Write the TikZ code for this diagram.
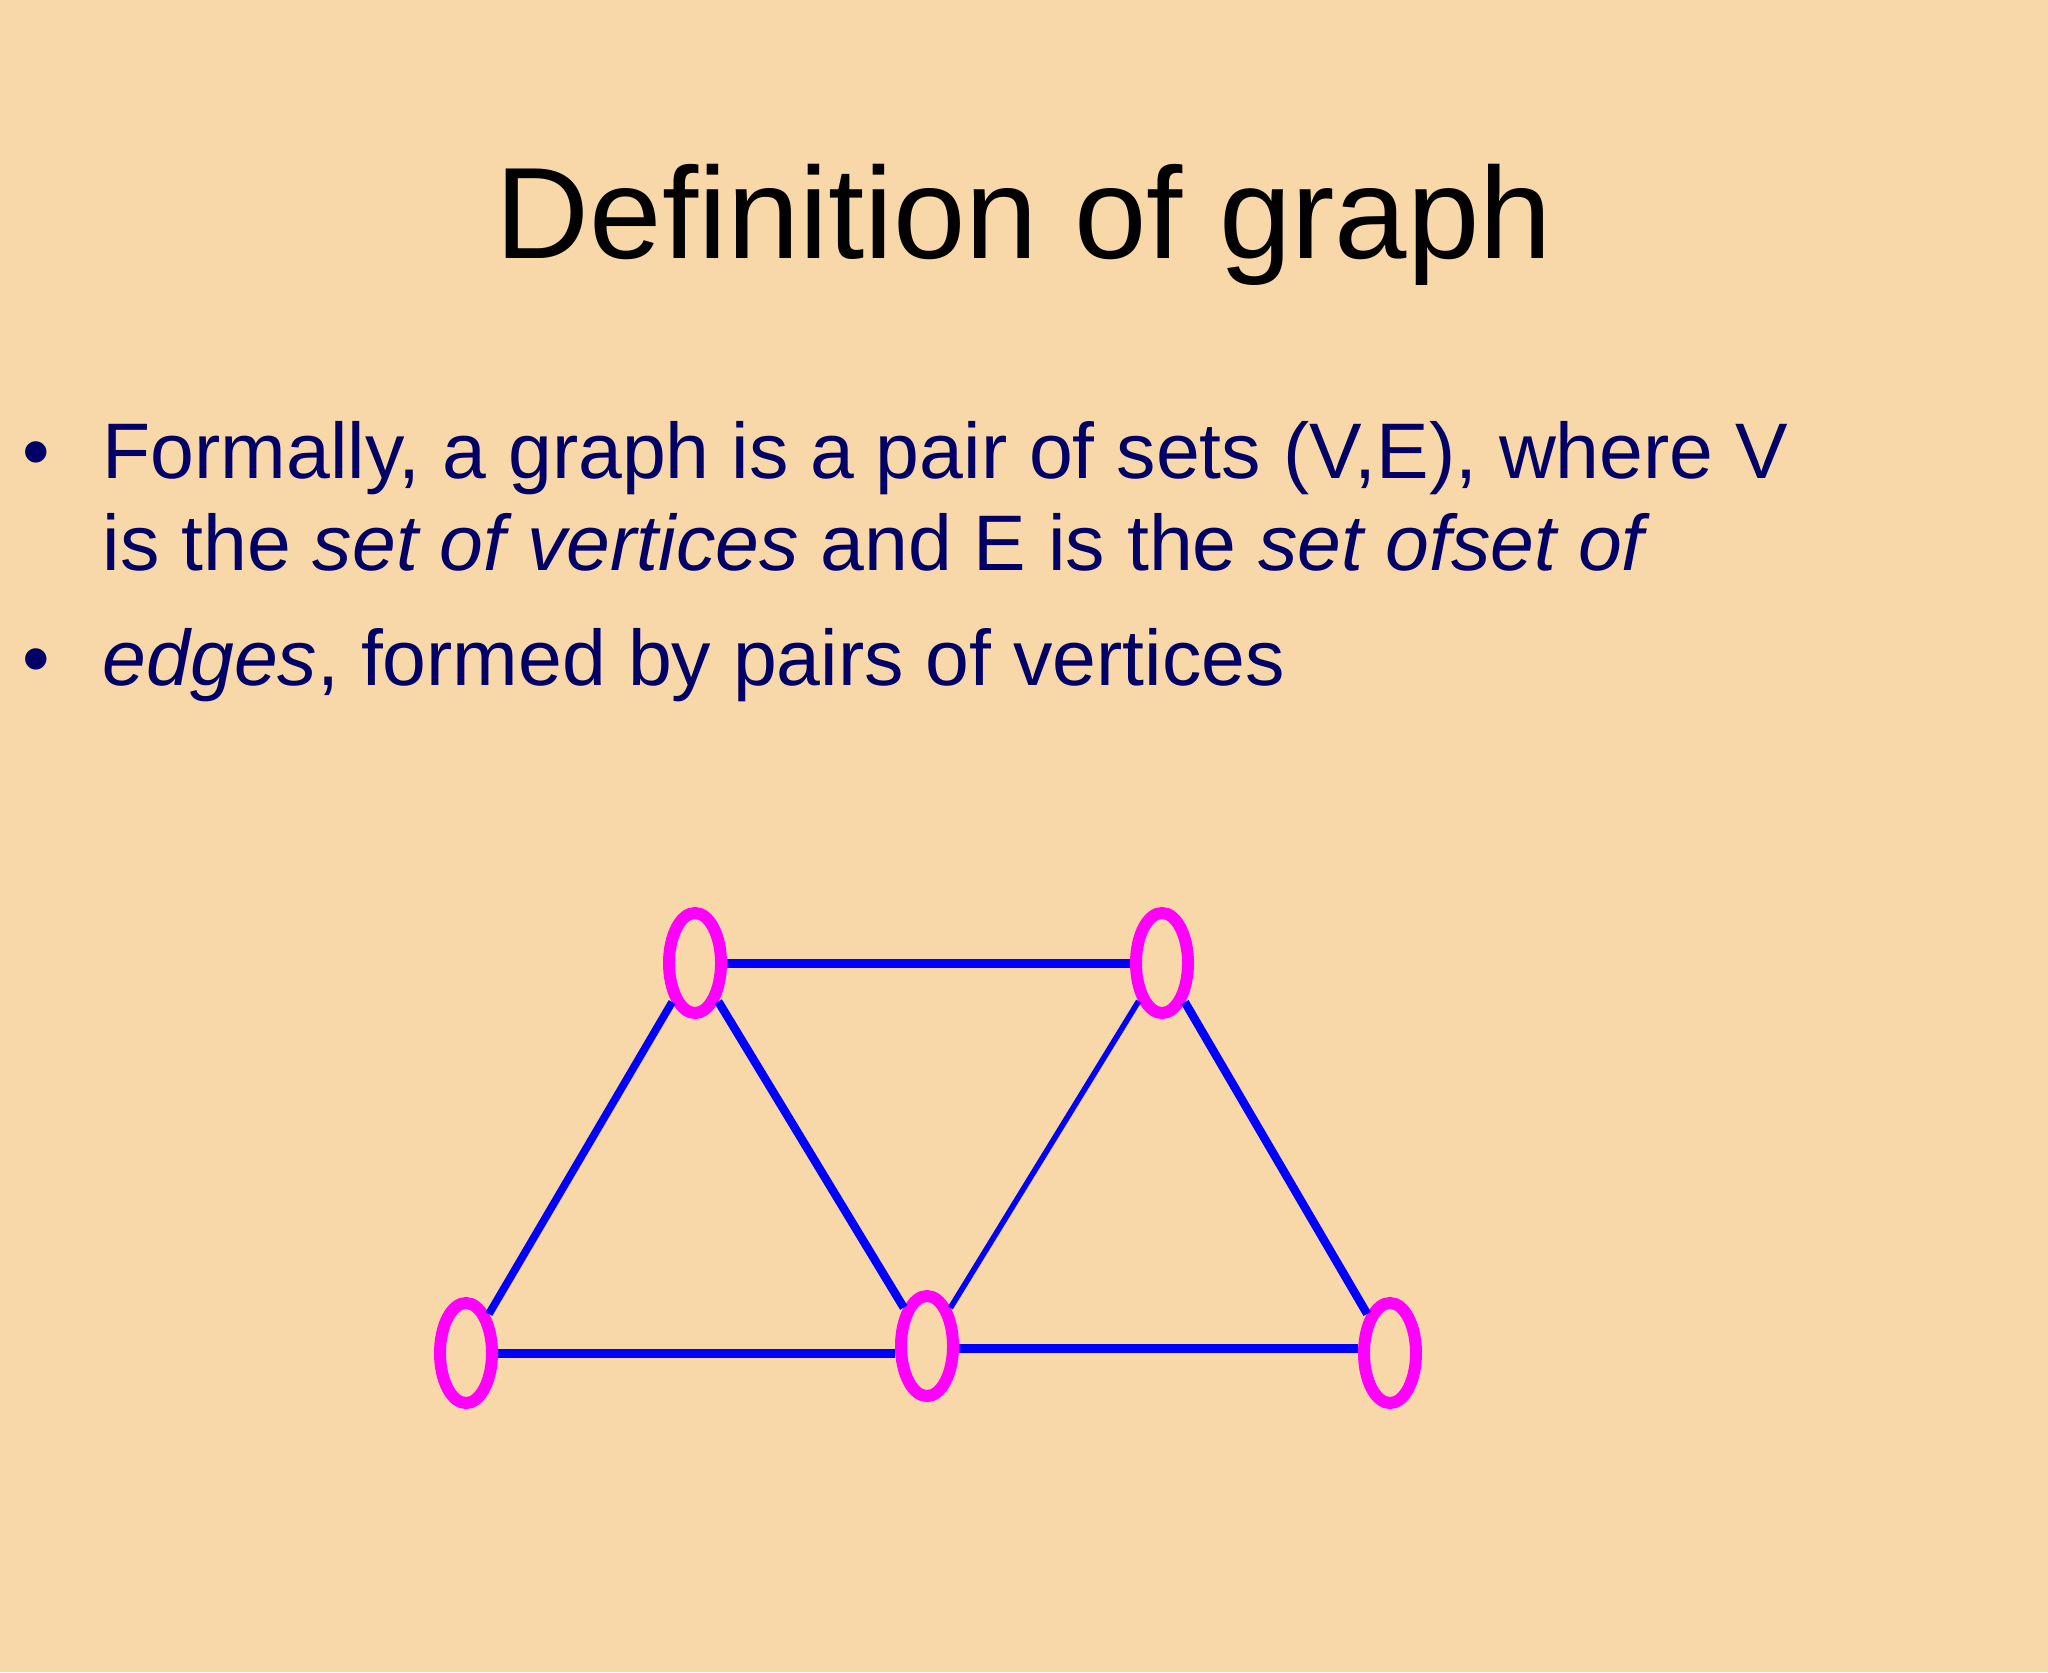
\documentclass[tikz,border=0pt]{standalone}
\usepackage{fontspec}
\setmainfont{Liberation Sans}
\usetikzlibrary{shapes.geometric}
\definecolor{bg}{RGB}{248,215,168}
\definecolor{navy}{RGB}{0,0,102}
\definecolor{vmag}{RGB}{255,0,255}
\definecolor{eblue}{RGB}{0,0,255}
\tikzset{
  vtx/.style={ellipse, draw=vmag, line width=3.4pt, inner sep=0pt,
    minimum width=0.52cm, minimum height=1.0cm},
  edg/.style={draw=eblue, line width=#1},
  edg/.default=2.56pt,
  body/.style={anchor=base west, text=navy, inner sep=0pt,
    font=\fontsize{22.4pt}{26pt}\selectfont},
}
\begin{document}
\begin{tikzpicture}[x=0.01cm,y=-0.01cm]
\fill[bg] (0,0) rectangle (2048,1672);
\useasboundingbox (0,0) rectangle (2048,1672);
\node[anchor=base, inner sep=0pt, font=\fontsize{37pt}{40pt}\selectfont] (title) at (1024,258.5) {Definition of graph};
\node[body] (b1) at (22,478) {•};
\node[body] (l1) at (102,478) {Formally, a graph is a pair of sets (V,E), where V};
\node[body] (l2) at (102,570) {is the \textit{set of vertices} and E is the \textit{set ofset of}};
\node[body] (b2) at (22,685) {•};
\node[body] (l3) at (102,685) {\textit{edges}, formed by pairs of vertices};
\node[vtx] (A) at (695,963) {};
\node[vtx] (B) at (1162,963) {};
\node[vtx] (C) at (466,1353) {};
\node[vtx] (D) at (927,1346) {};
\node[vtx] (E) at (1390,1353) {};
\draw[edg] (A) -- (B);
\draw[edg] (C.east) -- (C.east -| D.west);
\draw[edg] (D.east |- 0,1348) -- (E.west |- 0,1348);
\draw[edg=2.2pt] (A) -- (C);
\draw[edg=2.4pt] (A) -- (D);
\draw[edg=1.6pt] (D) -- (B);
\draw[edg=2.4pt] (B) -- (E);
\end{tikzpicture}
\end{document}
